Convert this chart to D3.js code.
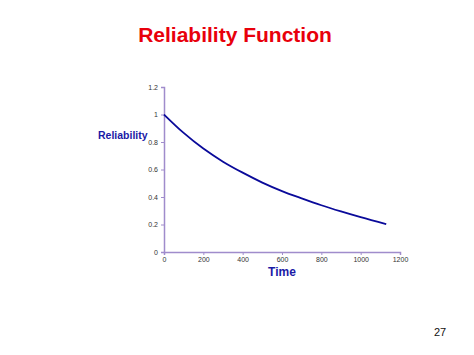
<!DOCTYPE html>
<html>
<head>
<meta charset="utf-8">
<script src="https://cdn.jsdelivr.net/npm/d3@7"></script>
<style>
body { margin: 0; background: #fff; }
svg { display: block; font-family: "Liberation Sans", Arial, sans-serif; }
.axis path, .axis line { stroke: #a08ccc; }
.axis text { fill: #333; font-size: 7px; }
</style>
</head>
<body>
<div id="chart"></div>
<script>
const WIDTH = 474;
const HEIGHT = 355;

var times = [0, 100, 200, 300, 400, 500, 600, 700, 800, 900, 1000, 1130];
var reliability = [1, 0.866, 0.752, 0.657, 0.577, 0.505, 0.443, 0.39, 0.34, 0.295, 0.253, 0.203];
var xTicks = [0, 200, 400, 600, 800, 1000, 1200];
var yTicks = [0, 0.2, 0.4, 0.6, 0.8, 1, 1.2];

var x = d3.scaleLinear().domain([0, 1200]).range([164, 400]);
var y = d3.scaleLinear().domain([0, 1.2]).range([252, 87]);

var svg = d3.select('#chart').append('svg')
    .attr('width', WIDTH)
    .attr('height', HEIGHT);

svg.append('text')
    .attr('x', 235).attr('y', 42)
    .attr('text-anchor', 'middle')
    .attr('font-size', 21).attr('font-weight', 'bold')
    .attr('fill', '#e8000b')
    .text('Reliability Function');

var xAxis = d3.axisBottom(x).tickValues(xTicks).tickSize(3).tickPadding(2).tickFormat(d3.format('d'));
var yAxis = d3.axisLeft(y).tickValues(yTicks).tickSize(3).tickPadding(3).tickFormat(function (d) { return d; });

svg.append('g').attr('class', 'axis')
    .attr('transform', 'translate(0,' + y(0) + ')')
    .call(xAxis);
svg.append('g').attr('class', 'axis')
    .attr('transform', 'translate(' + x(0) + ',0)')
    .call(yAxis);
svg.selectAll('.axis .domain').attr('stroke-width', 1.5);

var line = d3.line()
    .x(function (d, i) { return x(times[i]); })
    .y(function (d) { return y(d); })
    .curve(d3.curveMonotoneX);

svg.append('path')
    .attr('d', line(reliability))
    .attr('fill', 'none')
    .attr('stroke', '#0a0a9a')
    .attr('stroke-width', 1.8);

svg.append('text')
    .attr('x', 98).attr('y', 139)
    .attr('font-size', 10.5).attr('font-weight', 'bold')
    .attr('fill', '#1a1aa6')
    .text('Reliability');

svg.append('text')
    .attr('x', 282).attr('y', 276)
    .attr('text-anchor', 'middle')
    .attr('font-size', 12).attr('font-weight', 'bold')
    .attr('fill', '#1a1aa6')
    .text('Time');

svg.append('text')
    .attr('x', 440).attr('y', 336)
    .attr('text-anchor', 'middle')
    .attr('font-size', 11)
    .attr('fill', '#111')
    .text('27');
</script>
</body>
</html>
